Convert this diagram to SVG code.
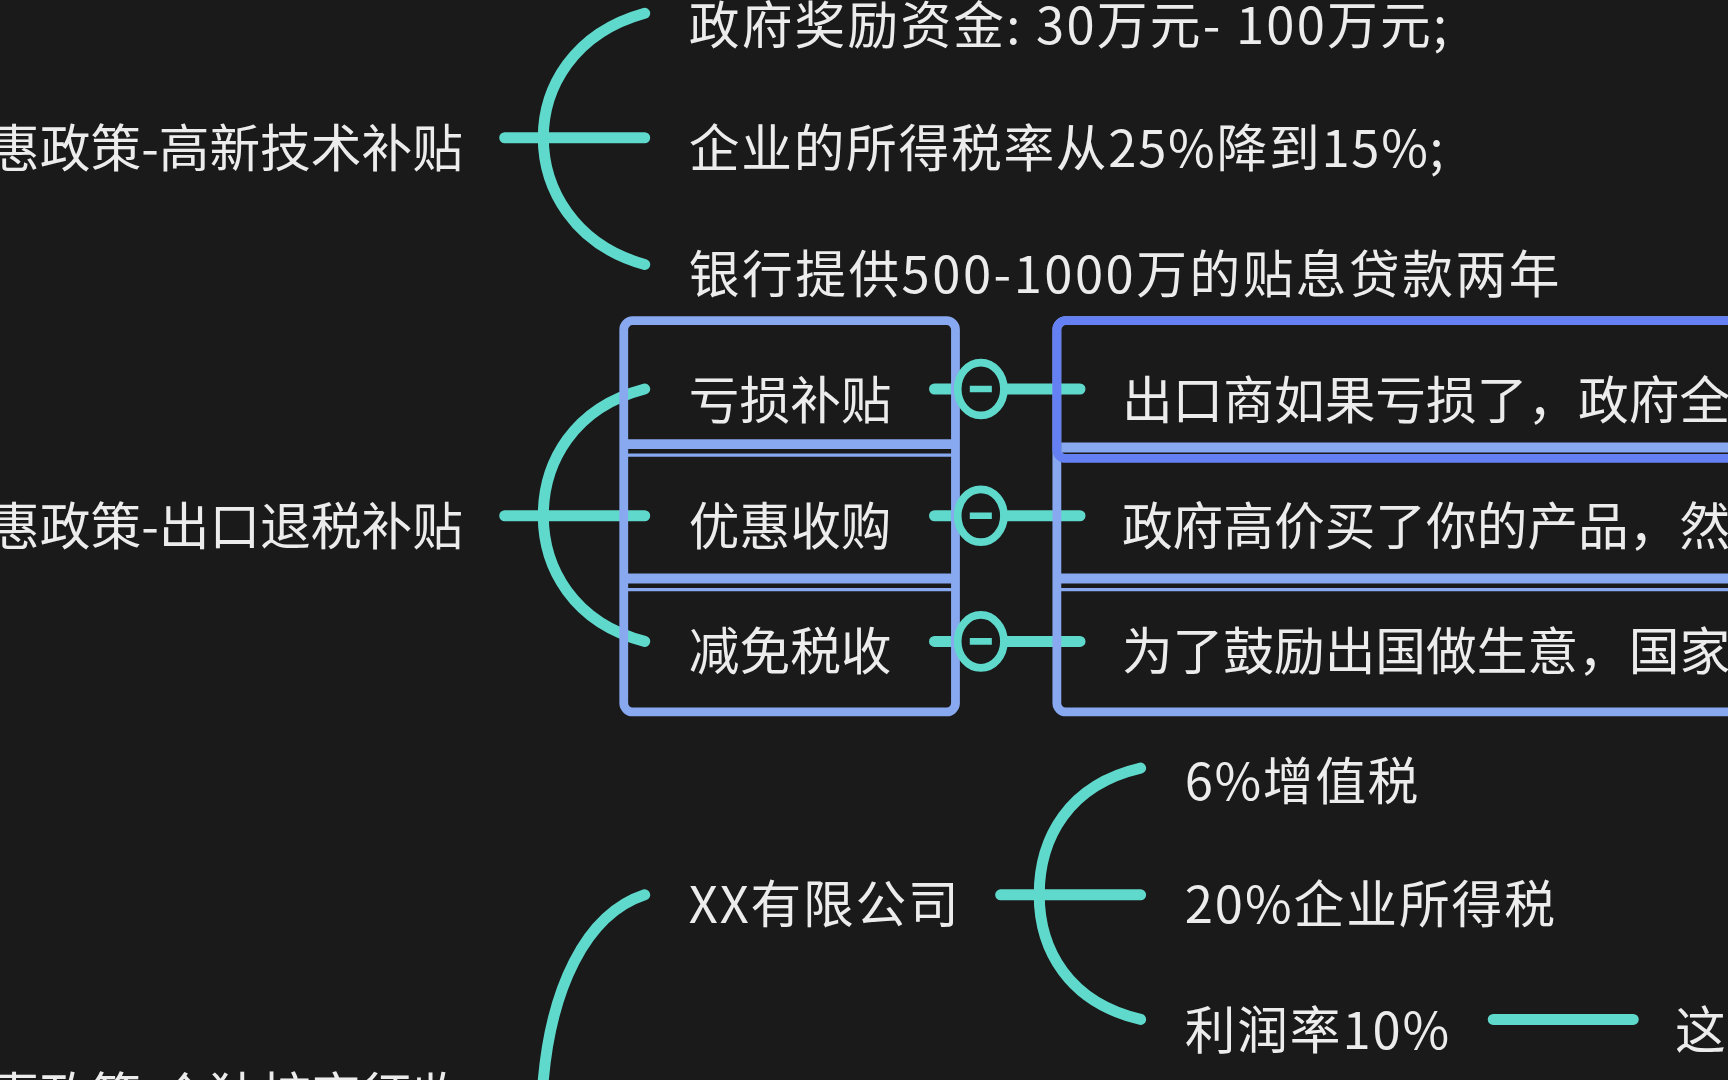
<svg xmlns="http://www.w3.org/2000/svg" width="1728" height="1080" viewBox="0 0 1728 1080">
<style>
.t{font-family:"Noto Sans CJK SC","Noto Sans",sans-serif;font-size:46px;fill:#ececec;dominant-baseline:central}
.c{fill:none;stroke:#5fd9cc;stroke-width:10;stroke-linecap:round}
.b{fill:none;stroke:#88a8f0;stroke-width:8}
.d{stroke:#88a8f0}
</style>
<rect width="1728" height="1080" fill="#1a1a1a"/>
<g transform="scale(1.10204)">
<g id="connectors">
<path class="c" d="M458 125H585M585 12C520 30 493 80 493 125C493 170 520 222 585 240"/>
<path class="c" d="M458 468H585M585 353C520 370 493 420 493 468C493 515 520 565 585 582"/>
<path class="c" d="M585 812C530 830 500 900 493 980"/>
<path class="c" d="M908 812H1035M1035 697C970 712 943 760 943 812C943 862 970 910 1035 925"/>
<path class="c" d="M1355 925H1482"/>
<path class="c" d="M848 353H980M848 468H980M848 582H980"/>
</g>
<g id="n-tech"><text class="t" x="420" y="132" text-anchor="end">惠政策-高新技术补贴</text></g>
<g id="n-t1"><text class="t" x="625" y="20" textLength="688">政府奖励资金: 30万元- 100万元;</text></g>
<g id="n-t2"><text class="t" x="625" y="132" textLength="685">企业的所得税率从25%降到15%;</text></g>
<g id="n-t3"><text class="t" x="625" y="246" textLength="790">银行提供500-1000万的贴息贷款两年</text></g>
<g id="n-export"><text class="t" x="420" y="475" text-anchor="end">惠政策-出口退税补贴</text></g>
<g id="n-left-box">
<rect class="b" x="566" y="291" width="301" height="355" rx="8"/>
<path class="d" d="M568 403H865M568 525H865" stroke-width="9"/>
<path class="d" d="M568 413H865M568 535H865" stroke-width="3"/>
<text class="t" x="625" y="360">亏损补贴</text>
<text class="t" x="625" y="475">优惠收购</text>
<text class="t" x="625" y="588">减免税收</text>
</g>
<g id="n-collapse">
<g fill="#1a1a1a" stroke="#5fd9cc" stroke-width="7">
<ellipse cx="890" cy="353" rx="21" ry="24"/><ellipse cx="890" cy="468" rx="21" ry="24"/><ellipse cx="890" cy="582" rx="21" ry="24"/>
</g>
<path d="M880 353H900M880 468H900M880 582H900" stroke="#5fd9cc" stroke-width="6"/>
</g>
<g id="n-right-box">
<rect class="b" x="959" y="291" width="700" height="355" rx="8"/>
<path class="d" d="M961 525H1600" stroke-width="9"/>
<path class="d" d="M961 535H1600" stroke-width="3"/>
<rect x="959" y="291" width="700" height="125" rx="8" fill="none" stroke="#6580f2" stroke-width="8"/>
<path d="M963 406H1600" stroke="#88a8f0" stroke-width="9"/>
<text class="t" x="1018" y="360">出口商如果亏损了，政府全</text>
<text class="t" x="1018" y="475">政府高价买了你的产品，然</text>
<text class="t" x="1018" y="588">为了鼓励出国做生意，国家</text>
</g>
<g id="n-company"><text class="t" x="625" y="818" textLength="245">XX有限公司</text></g>
<g id="n-c1"><text class="t" x="1075" y="706" textLength="212">6%增值税</text></g>
<g id="n-c2"><text class="t" x="1075" y="818" textLength="336">20%企业所得税</text></g>
<g id="n-c3"><text class="t" x="1075" y="932" textLength="240">利润率10%</text></g>
<g id="n-c4"><text class="t" x="1520" y="932">这</text></g>
<g id="n-bottom"><text class="t" x="420" y="992" text-anchor="end">惠政策-个独核定征收</text></g>
</g>
</svg>
